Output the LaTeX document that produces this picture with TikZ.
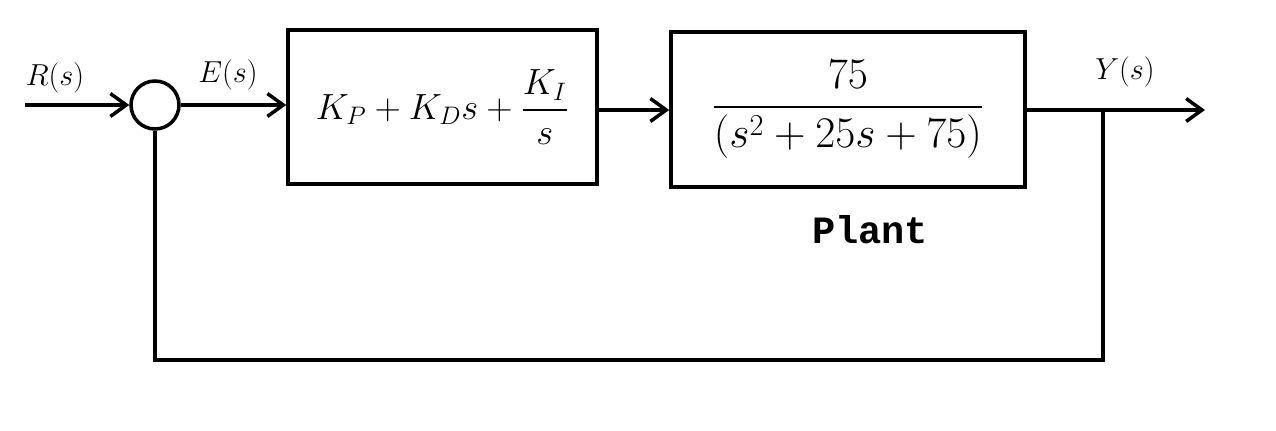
\documentclass[tikz,border=0pt]{standalone}
\usepackage{amsmath}
\usepackage{fontspec}
\newfontfamily\monob{Liberation Mono}
\usetikzlibrary{arrows.meta}
\begin{document}
\begin{tikzpicture}[x=0.02cm,y=-0.02cm,line width=2pt,
  blk/.style={draw,rectangle,inner sep=0pt},
  sig/.style={-{Straight Barb[length=9pt,width=13pt,line width=2pt]}},
  lbl/.style={font=\fontsize{16}{18}\selectfont}]
\useasboundingbox (0,0) rectangle (1276,431);
\node[blk,minimum width=309*0.02cm,minimum height=154*0.02cm] (c) at (442.5,107) {};
\node[font=\fontsize{21}{25}\selectfont] at (c) {$K_P+K_Ds+\dfrac{K_I}{s}$};
\node[blk,minimum width=354*0.02cm,minimum height=155*0.02cm] (p) at (848,109.5) {};
\node[font=\fontsize{23}{27}\selectfont] at (p) {$\dfrac{75}{(s^2+25s+75)}$};
\node[draw,circle,minimum size=48*0.02cm,inner sep=0pt] (sum) at (155,105) {};
\coordinate (in) at (25,105);
\coordinate (out) at (1205,110);
\coordinate (br) at (1103,110);
\coordinate (fb1) at (1103,360);
\coordinate (fb2) at (155,360);
\draw[sig] (in) -- (sum.west);
\draw[sig] (sum.east) -- (c.west |- sum.east);
\draw[sig] (c.east |- 0,110) -- (p.west |- 0,110);
\draw[sig] (p.east |- out) -- (out);
\draw (br) -- (fb1) -- (fb2) -- (sum.south);
\node[lbl] at (55,78) {$R(s)$};
\node[lbl] at (228,75) {$E(s)$};
\node[lbl] at (1125,72) {$Y(s)$};
\node[font=\monob\bfseries\fontsize{22}{24}\selectfont] at (870,230) {Plant};
\end{tikzpicture}
\end{document}
